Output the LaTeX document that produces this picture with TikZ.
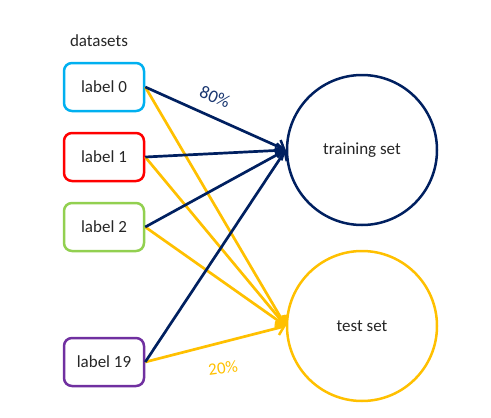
\documentclass[tikz,border=0pt]{standalone}
\usepackage{fontspec}
\setmainfont{Carlito}
\usetikzlibrary{arrows.meta}
\definecolor{navy}{RGB}{0,32,96}
\definecolor{gold}{RGB}{255,192,0}
\definecolor{lblue}{RGB}{0,176,240}
\definecolor{lred}{RGB}{255,0,0}
\definecolor{lgreen}{RGB}{146,208,80}
\definecolor{lpurple}{RGB}{112,48,160}
\tikzset{
  txt/.style={font=\fontsize{17}{20}\selectfont, text=black!85},
  labelbox/.style={txt, draw, line width=2.5pt, rounded corners=8pt, minimum width=80pt, minimum height=48pt, inner sep=0pt},
  setcircle/.style={txt, draw, circle, line width=2.5pt, minimum size=150pt, inner sep=0pt},
  conn/.style={line width=2.7pt, -{Straight Barb[length=7pt,width=14pt,line width=2.5pt]}},
  navyconn/.style={conn, draw=navy},
  goldconn/.style={conn, draw=gold}
}
\begin{document}
\begin{tikzpicture}[x=1pt,y=-1pt]
\useasboundingbox (0,0) rectangle (491,418);
\node[txt] (ds) at (99,41) {datasets};
\node[labelbox, draw=lblue] (l0) at (104,87) {label 0};
\node[labelbox, draw=lred] (l1) at (104,157) {label 1};
\node[labelbox, draw=lgreen] (l2) at (104,227) {label 2};
\node[labelbox, draw=lpurple] (l19) at (104,362) {label 19};
\node[setcircle, draw=navy] (train) at (362,150) {training set};
\node[setcircle, draw=gold] (test) at (362,326) {test set};
\draw[goldconn] (l0.east) -- (test.west);
\draw[goldconn] (l1.east) -- (test.west);
\draw[goldconn] (l2.east) -- (test.west);
\draw[goldconn] (l19.east) -- (test.west);
\draw[navyconn] (l0.east) -- (train.west);
\draw[navyconn] (l1.east) -- (train.west);
\draw[navyconn] (l2.east) -- (train.west);
\draw[navyconn] (l19.east) -- (train.west);
\node[font=\fontsize{18}{21}\selectfont, text=navy!90, rotate=-22] (p80) at (215,97) {80\%};
\node[font=\fontsize{17}{20}\selectfont, text=gold, rotate=8] (p20) at (223,368) {20\%};
\end{tikzpicture}
\end{document}
